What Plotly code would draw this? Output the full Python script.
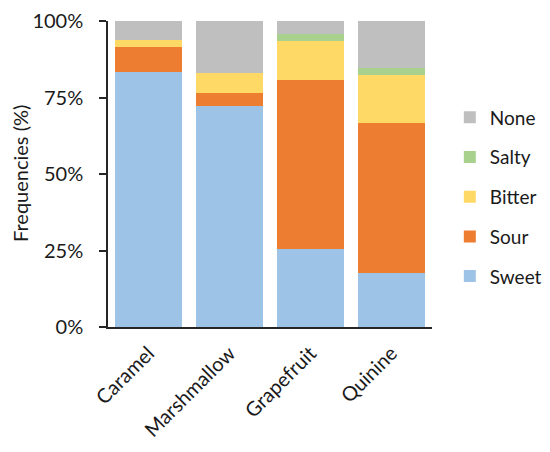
import plotly.graph_objects as go

foods = ["Caramel", "Marshmallow", "Grapefruit", "Quinine"]

# percentage of answers per taste
sweet = [83.3, 72.3, 25.5, 17.8]
sour = [8.3, 4.3, 55.3, 48.9]
bitter = [2.1, 6.4, 12.8, 15.6]
salty = [0.0, 0.0, 2.1, 2.2]
none = [6.3, 17.0, 4.3, 15.5]

ytick_vals = [0, 25, 50, 75, 100]
ytick_text = ["0%", "25%", "50%", "75%", "100%"]

series = [
    ("Sweet", sweet, "#9DC3E6"),
    ("Sour", sour, "#ED7D31"),
    ("Bitter", bitter, "#FFD966"),
    ("Salty", salty, "#A9D18E"),
    ("None", none, "#BFBFBF"),
]

fig = go.Figure()
for i, (name, vals, col) in enumerate(series):
    fig.add_trace(go.Bar(x=foods, y=vals, name=name, marker_color=col,
                         marker_line_width=0, legendgroup=name,
                         legendrank=len(series) - i))

font = "Lato, Noto Sans, sans-serif"

fig.update_layout(
    barmode="stack",
    bargap=0.17,
    width=550, height=452,
    margin=dict(l=100, r=126, t=13, b=133, autoexpand=False),
    plot_bgcolor="white",
    paper_bgcolor="white",
    font=dict(family=font, size=20, color="#1a1a1a"),
    showlegend=True,
    legend=dict(
        traceorder="grouped",
        x=1.055, xanchor="left",
        y=0.425, yanchor="middle",
        font=dict(size=19),
        itemwidth=30,
        tracegroupgap=12,
    ),
)

fig.update_yaxes(
    range=[0, 100],
    tickvals=ytick_vals,
    ticktext=ytick_text,
    showgrid=False,
    zeroline=False,
    showline=True,
    linecolor="#262626",
    linewidth=1.5,
    ticks="outside",
    ticklen=7,
    tickwidth=1.5,
    tickcolor="#262626",
    ticklabelstandoff=12,
    ticklabeloverflow="allow",
    automargin=False,
)

fig.update_xaxes(
    tickangle=-45,
    showline=True,
    linecolor="#262626",
    linewidth=1.5,
    ticks="",
    showgrid=False,
    ticklabelstandoff=5,
    automargin=False,
)

fig.add_annotation(
    text="Frequencies (%)",
    xref="paper", yref="paper",
    x=(12 - 100) / 324, y=0.5,
    xanchor="center", yanchor="middle",
    textangle=-90,
    showarrow=False,
    font=dict(size=20),
)

fig.write_html("out.html")
